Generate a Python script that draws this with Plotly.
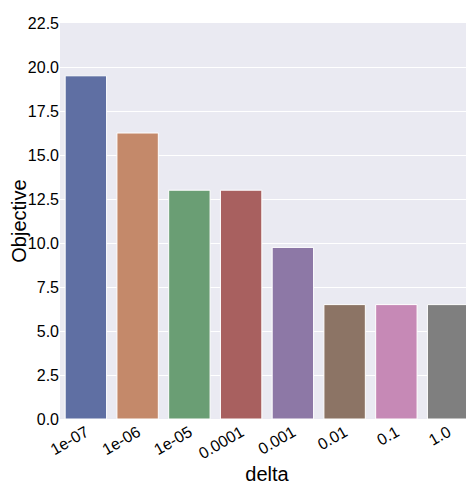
import plotly.graph_objects as go

deltas = ["1e-07", "1e-06", "1e-05", "0.0001", "0.001", "0.01", "0.1", "1.0"]
objective = [19.5, 16.25, 13.0, 13.0, 9.75, 6.5, 6.5, 6.5]
colors = ["#5f6fa3", "#c4896a", "#6a9e74", "#a8605f", "#8d78a6", "#8c7465", "#c689b6", "#7f7f7f"]

fig = go.Figure(go.Bar(x=deltas, y=objective, marker=dict(color=colors, line=dict(color="white", width=1)),
                       width=0.8))

fig.update_layout(
    width=474, height=499,
    margin=dict(l=52, r=8, t=15, b=88),
    plot_bgcolor="#eaeaf2", paper_bgcolor="white",
    font=dict(family="Liberation Sans", size=16, color="black"),
    showlegend=False,
)
fig.update_xaxes(title=dict(text="delta", font=dict(size=20), standoff=6), tickangle=-30,
                 showgrid=False, ticks="", automargin=False)
fig.update_yaxes(title=dict(text="Objective", font=dict(size=20), standoff=4), range=[0, 22.5], dtick=2.5,
                 tickformat=".1f", gridcolor="white", gridwidth=1.2, zeroline=False, ticks="",
                 automargin=False)

fig.write_html("out.html")
